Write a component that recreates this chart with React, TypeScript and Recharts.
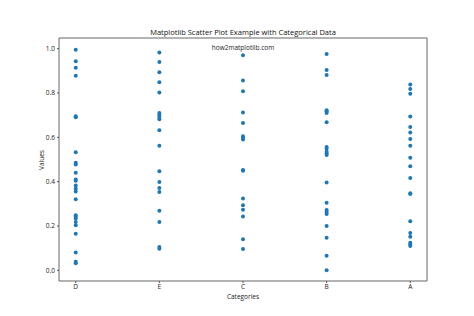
import React from "react";
import {
  ScatterChart,
  Scatter,
  XAxis,
  YAxis,
  ReferenceArea,
} from "recharts";

const categories = ["D", "E", "C", "B", "A"];

const dValues = [0.995, 0.943, 0.914, 0.878, 0.695, 0.69, 0.533, 0.485, 0.477, 0.44, 0.41, 0.404, 0.383, 0.368, 0.356, 0.321, 0.248, 0.242, 0.234, 0.218, 0.203, 0.165, 0.081, 0.039, 0.032];
const eValues = [0.983, 0.94, 0.893, 0.848, 0.802, 0.71, 0.701, 0.692, 0.682, 0.632, 0.562, 0.447, 0.398, 0.372, 0.353, 0.269, 0.218, 0.105, 0.098];
const cValues = [0.97, 0.856, 0.808, 0.712, 0.665, 0.605, 0.598, 0.59, 0.453, 0.449, 0.324, 0.294, 0.273, 0.243, 0.14, 0.096];
const bValues = [0.976, 0.904, 0.881, 0.722, 0.716, 0.71, 0.668, 0.556, 0.548, 0.535, 0.527, 0.52, 0.396, 0.305, 0.272, 0.263, 0.254, 0.2, 0.147, 0.066, 0.0];
const aValues = [0.838, 0.818, 0.797, 0.694, 0.647, 0.622, 0.592, 0.562, 0.508, 0.47, 0.416, 0.348, 0.344, 0.222, 0.168, 0.152, 0.125, 0.117, 0.11];

const valueLists = [dValues, eValues, cValues, bValues, aValues];
const yTicks = [0, 0.2, 0.4, 0.6, 0.8, 1.0];

const points = valueLists.flatMap((vals, i) => vals.map((v) => ({ x: i, y: v })));

const FONT = "'Open Sans', sans-serif";
const W = 474;
const H = 316;

export default function App() {
  return (
    <div style={{ position: "absolute", left: 0, top: 0, width: W, height: H, background: "#fff" }}>
      <ScatterChart width={W} height={H} margin={{ top: 38, right: 47, bottom: 15, left: 29 }}>
        <XAxis
          type="number"
          dataKey="x"
          domain={[-0.2, 4.2]}
          ticks={[0, 1, 2, 3, 4]}
          tickFormatter={(v) => categories[v] ?? ""}
          height={20}
          tickSize={2}
          tickMargin={1}
          axisLine={false}
          tickLine={{ stroke: "#555" }}
          tick={{ fontSize: 6.5, fill: "#222", fontFamily: FONT }}
          interval={0}
        />
        <YAxis
          type="number"
          dataKey="y"
          domain={[-0.048, 1.048]}
          ticks={yTicks}
          tickFormatter={(v) => Number(v).toFixed(1)}
          width={30}
          tickSize={2}
          tickMargin={2}
          axisLine={false}
          tickLine={{ stroke: "#555" }}
          tick={{ fontSize: 6.5, fill: "#222", fontFamily: FONT }}
          interval={0}
        />
        <ReferenceArea
          x1={-0.2}
          x2={4.2}
          y1={-0.048}
          y2={1.048}
          stroke="#666"
          strokeWidth={1}
          fill="none"
          fillOpacity={0}
          ifOverflow="visible"
        />
        <Scatter
          data={points}
          fill="#1f77b4"
          isAnimationActive={false}
          shape={(p: any) => <circle cx={p.cx} cy={p.cy} r={2} fill="#1f77b4" />}
        />
      </ScatterChart>
      <svg width={W} height={H} style={{ position: "absolute", left: 0, top: 0, pointerEvents: "none" }}>
        <text x={243} y={34.5} textAnchor="middle" fontSize={7.5} fill="#111" fontFamily={FONT}>
          Matplotlib Scatter Plot Example with Categorical Data
        </text>
        <text x={243} y={50} textAnchor="middle" fontSize={6.5} fill="#222" fontFamily={FONT}>
          how2matplotlib.com
        </text>
        <text x={243} y={299} textAnchor="middle" fontSize={6.5} fill="#222" fontFamily={FONT}>
          Categories
        </text>
        <text x={0} y={0} textAnchor="middle" fontSize={6.5} fill="#222" fontFamily={FONT}
          transform="translate(44,160) rotate(-90)">
          Values
        </text>
      </svg>
    </div>
  );
}
